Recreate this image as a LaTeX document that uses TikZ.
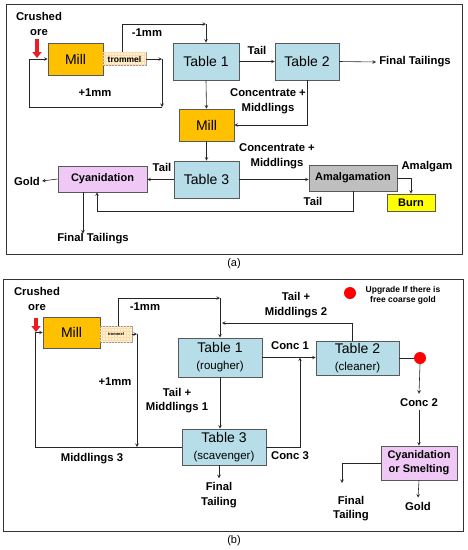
\documentclass[tikz,border=0pt]{standalone}
\usepackage{fontspec}
\setmainfont{Liberation Sans}
\usetikzlibrary{arrows.meta,patterns,positioning}
\definecolor{millorange}{RGB}{255,192,0}
\definecolor{tableblue}{RGB}{183,222,232}
\definecolor{cyanpink}{RGB}{240,200,246}
\definecolor{amalgrey}{RGB}{191,191,191}
\definecolor{burnyellow}{RGB}{255,255,0}
\definecolor{trommelyellow}{RGB}{255,246,205}
\definecolor{feedred}{RGB}{235,28,36}

\begin{document}
\begin{tikzpicture}[x=1pt, y=-1pt,
    box/.style={draw=black!65, line width=0.6pt, inner sep=0pt, align=center},
    mill/.style={box, fill=millorange, minimum width=55pt, minimum height=32pt, font=\fontsize{14}{16}\selectfont},
    tbl/.style={box, fill=tableblue, font=\fontsize{14}{17}\selectfont},
    trommel/.style={box, draw=black!40, fill=trommelyellow, postaction={pattern=grid, pattern color=orange!30}},
    proc/.style={box, font=\fontsize{11}{14}\selectfont\bfseries},
    lbl/.style={font=\fontsize{11.3}{14.5}\selectfont\bfseries, align=center, inner sep=0pt},
    arrow/.style={->, >=stealth, line width=0.6pt, draw=black!85},
    link/.style={line width=0.6pt, draw=black!85},
    feed/.style={draw=feedred, line width=3.5pt, -{Triangle[length=6pt, width=9pt]}},
    frame/.style={draw=black!80, line width=0.8pt},
    dot/.style={circle, fill=red, minimum size=12pt, inner sep=0pt}
]
    \useasboundingbox (0,0) rectangle (468,550);

    % (a) gravity with amalgamation
    \draw[frame] (6,4) rectangle (462,254);
    \node[lbl] (crushA) at (39,24) {Crushed\\ore};
    \coordinate (feedA) at (37,58);
    \draw[feed] ([yshift=-3]crushA.south -| feedA) -- (feedA);

    \node[mill] (millA) at (75.5,59) {Mill};
    \node[trommel, minimum width=43pt, minimum height=13pt, font=\fontsize{8.5}{9}\selectfont\bfseries] (tromA) at (124.5,59) {trommel};
    \node[tbl, minimum width=66pt, minimum height=37pt] (tab1A) at (206,61.5) {Table 1};
    \node[tbl, minimum width=64pt, minimum height=37pt] (tab2A) at (307,61.5) {Table 2};
    \node[mill] (mill2A) at (206.5,125) {Mill};
    \node[tbl, minimum width=65pt, minimum height=37pt] (tab3A) at (206.5,179.5) {Table 3};
    \node[proc, fill=cyanpink, minimum width=89pt, minimum height=26pt] (cyanA) at (102.5,179) {Cyanidation};
    \node[proc, fill=amalgrey, minimum width=88pt, minimum height=26pt] (amalA) at (353,178) {Amalgamation};
    \node[proc, fill=burnyellow, minimum width=48pt, minimum height=17pt] (burnA) at (411,202.5) {Burn};

    \node[lbl] (minusA) at (147,33) {-1mm};
    \node[lbl] (plusA) at (95,93) {+1mm};
    \node[lbl] (tail1A) at (257,50) {Tail};
    \node[lbl] (finalA) at (415,62) {Final Tailings};
    \node[lbl] (conc1A) at (268,101) {Concentrate +\\Middlings};
    \node[lbl] (tail2A) at (162,167) {Tail};
    \node[lbl] (goldA) at (27,181) {Gold};
    \node[lbl] (final2A) at (93,239) {Final Tailings};
    \node[lbl] (conc2A) at (277,156) {Concentrate +\\Middlings};
    \node[lbl] (amalgamA) at (427,167) {Amalgam};
    \node[lbl] (tail3A) at (313,201) {Tail};
    \node[font=\fontsize{11}{13}\selectfont] (capA) at (234,264) {(a)};

    \coordinate (t1A) at (162,59);
    \coordinate (t2A) at (162,107);
    \coordinate (t3A) at (29,107);
    \coordinate (t4A) at (206,24);
    \coordinate (rtA) at (97,211);
    \draw[arrow] ([xshift=-2.5]tromA.north) |- (t4A);
    \draw[arrow] (t4A) -- (tab1A.north);
    \draw[arrow] (tromA.east) -- (t1A);
    \draw[arrow] (t1A) -- (t2A);
    \draw[arrow] (t2A) -- (t3A) |- (millA.west);
    \draw[arrow] (tab1A.east) -- (tab2A.west);
    \draw[arrow] (tab2A.east) -- ([xshift=-3]finalA.west);
    \draw[arrow] (tab2A.south) |- (mill2A.east);
    \draw[arrow] (tab1A.south) -- (mill2A.north);
    \draw[arrow] (mill2A.south) -- (tab3A.north);
    \draw[arrow] (tab3A.west) -- (tab3A.west -| cyanA.east);
    \draw[arrow] (cyanA.west) -- ([xshift=2]goldA.east);
    \draw[arrow] ([xshift=-19.5]cyanA.south) -- ([xshift=-19.5]cyanA.south |- final2A.north);
    \draw[arrow] (tab3A.east) -- (tab3A.east -| amalA.west);
    \draw[arrow] (amalA.east) -| (burnA.north);
    \draw[arrow] (amalA.south) |- (rtA) -- (rtA |- cyanA.south);

    % (b) gravity circuit with scavenger
    \draw[frame] (3,279) rectangle (463,531);
    \node[lbl] (crushB) at (37,299) {Crushed\\ore};
    \coordinate (feedB) at (36,332);
    \draw[feed] ([yshift=-7]crushB.south -| feedB) -- (feedB);

    \node[mill, minimum width=57pt, minimum height=31pt] (millB) at (71.5,332.5) {Mill};
    \node[trommel, minimum width=32pt, minimum height=16pt, font=\fontsize{4}{4}\selectfont\bfseries] (tromB) at (116,334) {trommel};
    \node[tbl, minimum width=84pt, minimum height=39pt] (tab1B) at (220,357.5) {Table 1\\{\fontsize{11.5}{13}\selectfont (rougher)}};
    \node[tbl, minimum width=83pt, minimum height=34pt] (tab2B) at (357.5,358) {Table 2\\{\fontsize{11.5}{13}\selectfont (cleaner)}};
    \node[tbl, minimum width=84pt, minimum height=36pt] (tab3B) at (224,447) {Table 3\\{\fontsize{11.5}{13}\selectfont (scavenger)}};
    \node[dot] (redB) at (420,358) {};
    \node[proc, fill=cyanpink, minimum width=76pt, minimum height=34pt] (cyanB) at (419,463) {Cyanidation\\or Smelting};
    \node[dot] (keyB) at (350,293) {};
    \node[font=\fontsize{8.5}{10.5}\selectfont\bfseries, align=center, inner sep=0pt] (keytxtB) at (403,295.5) {Upgrade If there is\\free coarse gold};

    \node[lbl] (minusB) at (145,307) {-1mm};
    \node[lbl] (plusB) at (115,382) {+1mm};
    \node[lbl] (mid1B) at (177,400.5) {Tail +\\Middlings 1};
    \node[lbl] (mid3B) at (92,459) {Middlings 3};
    \node[lbl] (conc1B) at (290,346) {Conc 1};
    \node[lbl] (conc3B) at (290,456) {Conc 3};
    \node[lbl] (mid2B) at (296,305) {Tail +\\Middlings 2};
    \node[lbl] (conc2B) at (419,403) {Conc 2};
    \node[lbl] (final1B) at (219,495) {Final\\Tailing};
    \node[lbl] (final2B) at (351,508.5) {Final\\Tailing};
    \node[lbl] (goldB) at (418,506) {Gold};
    \node[font=\fontsize{11}{13}\selectfont] (capB) at (234,541) {(b)};

    \coordinate (t1B) at (137,334);
    \coordinate (t4B) at (220,298);
    \coordinate (fbB) at (35,332.5);
    \coordinate (j3B) at (300,357.5);
    \coordinate (t2B) at (222,323);
    \coordinate (t5B) at (342,483);
    \draw[arrow] ([xshift=2]tromB.north) |- (t4B);
    \draw[arrow] (t4B) -- (tab1B.north);
    \draw[arrow] (tromB.east) -- (t1B);
    \draw[arrow] (t1B) -- (t1B |- tab3B.west);
    \draw[arrow] (tab3B.west) -| (fbB) -- (millB.west);
    \draw[arrow] (tab1B.east) -- (tab1B.east -| tab2B.west);
    \draw[arrow] (tab1B.south) -- (tab1B.south |- tab3B.north);
    \draw[arrow] (tab3B.east) -| (j3B);
    \draw[arrow] ([xshift=-5]tab2B.north) |- (t2B);
    \draw[link] (tab2B.east) -- (redB);
    \draw[arrow] (redB.south) -- ([yshift=5]conc2B.north);
    \draw[arrow] ([yshift=-3]conc2B.south) -- (cyanB.north);
    \draw[arrow] (cyanB.west) -| (t5B);
    \draw[arrow] (cyanB.south) -- ([yshift=4]goldB.north);
    \draw[arrow] ([xshift=-5]tab3B.south) -- ([yshift=4]final1B.north);
\end{tikzpicture}
\end{document}
